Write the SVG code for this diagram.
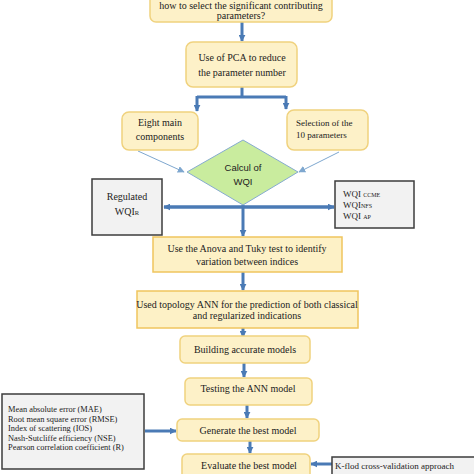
<svg xmlns="http://www.w3.org/2000/svg" width="474" height="474" viewBox="0 0 474 474">
<defs>
<style>
.yb{fill:#fdf1c8;stroke:#f0d27e;stroke-width:1.5}
.ys{fill:#fdf1c6;stroke:#efc55e;stroke-width:1.5}
.gb{fill:#f2f2f2;stroke:#3c3c3c;stroke-width:1.5}
.t{font-family:"Liberation Serif","Times New Roman",serif;font-size:10px;fill:#222;text-anchor:middle}
.tl{font-family:"Liberation Serif","Times New Roman",serif;font-size:9px;fill:#222}
.m{font-family:"Liberation Serif","Times New Roman",serif;font-size:8.4px;fill:#222}
.s{font-family:"Liberation Sans",Arial,sans-serif;font-size:9.5px;fill:#222;text-anchor:middle}
.c{stroke:#4a7ab5;stroke-width:3;fill:none}
.cw{stroke:#4a7ab5;stroke-width:3.5;fill:none}
.th{stroke:#7ea7cf;stroke-width:1;fill:none}
</style>
<marker id="ah" viewBox="0 0 10 10" refX="9" refY="5" markerWidth="7" markerHeight="7" markerUnits="userSpaceOnUse" orient="auto-start-reverse"><path d="M0,0 L10,5 L0,10 z" fill="#4a7ab5"/></marker>
<marker id="ahs" viewBox="0 0 10 10" refX="9" refY="5" markerWidth="7" markerHeight="7" markerUnits="userSpaceOnUse" orient="auto"><path d="M0,0 L10,5 L0,10 z" fill="#7ea7cf"/></marker>
</defs>

<g id="connectors">
<path class="c" d="M242,22 V41" marker-end="url(#ah)"/>
<path class="c" d="M242,87 V97 M197,97 H286"/>
<path class="c" d="M197,96 V111" marker-end="url(#ah)"/>
<path class="c" d="M286,96 V109" marker-end="url(#ah)"/>
<path class="th" d="M138,151 L184,172" marker-end="url(#ahs)"/>
<path class="th" d="M339,152 L299,172" marker-end="url(#ahs)"/>
<path class="cw" d="M164,207 H334" marker-start="url(#ah)" marker-end="url(#ah)"/>
<path class="c" d="M243,205 V236" marker-end="url(#ah)"/>
<path class="c" d="M243,272 V290" marker-end="url(#ah)"/>
<path class="c" d="M243,328 V337" marker-end="url(#ah)"/>
<path class="c" d="M244,363 V377" marker-end="url(#ah)"/>
<path class="c" d="M247,405 V418" marker-end="url(#ah)"/>
<path class="c" d="M250,441 V453" marker-end="url(#ah)"/>
<path class="c" d="M145,431 H176" marker-end="url(#ah)"/>
<path class="c" d="M332,464 H311" marker-end="url(#ah)"/>
</g>

<g id="n-question">
<rect class="yb" x="150" y="-12" width="182" height="34" rx="6"/>
<text class="t" x="241" y="9" font-size="10.2">how to select the significant contributing</text>
<text class="t" x="241" y="19" font-size="10.2">parameters?</text>
</g>

<g id="n-pca">
<rect class="yb" x="186" y="42" width="111" height="45" rx="7"/>
<text class="t" x="242" y="61" font-size="10.5">Use of PCA to reduce</text>
<text class="t" x="242" y="76" font-size="10.5">the parameter number</text>
</g>

<g id="n-eight">
<rect class="yb" x="122" y="112" width="76" height="38" rx="7"/>
<text class="t" x="160" y="126">Eight main</text>
<text class="t" x="160" y="140">components</text>
</g>

<g id="n-selection">
<rect class="yb" x="287" y="110" width="81" height="40" rx="7"/>
<text class="tl" x="296" y="126" font-size="9.5">Selection of the</text>
<text class="tl" x="296" y="138" font-size="9.5">10 parameters</text>
</g>

<g id="n-wqi">
<polygon points="243,140 298,172 243,205 187,172" fill="#c9ec9e" stroke="#86abd0" stroke-width="1"/>
<text class="s" x="243" y="171">Calcul of</text>
<text class="s" x="243" y="185">WQI</text>
</g>

<g id="n-regulated">
<rect class="gb" x="92" y="179" width="70" height="56"/>
<text class="t" x="127" y="200">Regulated</text>
<text class="t" x="127" y="215">WQI<tspan font-size="6.5">R</tspan></text>
</g>

<g id="n-indices">
<rect class="gb" x="335" y="181" width="79" height="47"/>
<text class="tl" x="343" y="197" font-size="10">WQI <tspan font-size="6">CCME</tspan></text>
<text class="tl" x="343" y="208" font-size="10">WQI<tspan font-size="6">NFS</tspan></text>
<text class="tl" x="343" y="219" font-size="10">WQI <tspan font-size="6">AP</tspan></text>
</g>

<g id="n-anova">
<rect class="ys" x="153" y="237" width="189" height="35"/>
<text class="t" x="247" y="252" font-size="9.8">Use the Anova and Tuky test to identify</text>
<text class="t" x="247" y="265" font-size="9.8">variation between indices</text>
</g>

<g id="n-topology">
<rect class="ys" x="137" y="291" width="221" height="37"/>
<text class="t" x="247" y="308" font-size="9">Used topology ANN for the prediction of both classical</text>
<text class="t" x="247" y="319" font-size="9">and regularized indications</text>
</g>

<g id="n-building">
<rect class="yb" x="180" y="336" width="130" height="27" rx="5"/>
<text class="t" x="245" y="352.5" font-size="10.2">Building accurate models</text>
</g>

<g id="n-testing">
<rect class="yb" x="185" y="378" width="127" height="27" rx="5"/>
<text class="t" x="248" y="392" font-size="10.2">Testing the ANN model</text>
</g>

<g id="n-generate">
<rect class="yb" x="177" y="419" width="142" height="22" rx="5"/>
<text class="t" x="248" y="434" font-size="10.2">Generate the best model</text>
</g>

<g id="n-evaluate">
<rect class="yb" x="182" y="454" width="128" height="26" rx="5"/>
<text class="t" x="249" y="469" font-size="10.5">Evaluate the best model</text>
</g>

<g id="n-kfold">
<rect class="gb" x="332" y="457" width="150" height="24"/>
<text class="tl" x="335" y="469">K-flod cross-validation approach</text>
</g>

<g id="n-metrics">
<rect class="gb" x="2" y="394" width="142" height="75"/>
<text class="m" x="8" y="412">Mean absolute error (MAE)</text>
<text class="m" x="8" y="421.5">Root mean square error (RMSE)</text>
<text class="m" x="8" y="431">Index of scattering (IOS)</text>
<text class="m" x="8" y="440.5">Nash-Sutcliffe efficiency (NSE)</text>
<text class="m" x="8" y="450">Pearson correlation coefficient (R)</text>
</g>
</svg>
